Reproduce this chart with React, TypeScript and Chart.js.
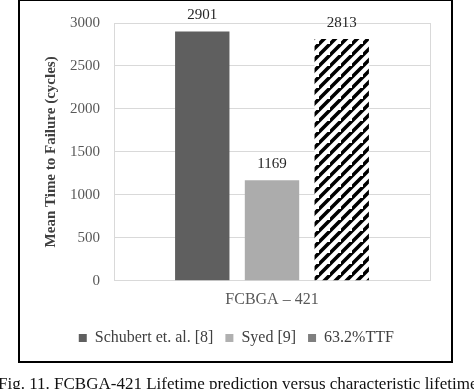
import React, { useEffect, useRef } from "react";
import { Chart, registerables } from "chart.js";

Chart.register(...registerables);

const categories = ["FCBGA – 421"];
const seriesNames = ["Schubert et. al. [8]", "Syed [9]", "63.2%TTF"];
const schubertValues = [2901];
const syedValues = [1169];
const ttfValues = [2813];
const yTicks = [0, 500, 1000, 1500, 2000, 2500, 3000];
const caption = "Fig. 11. FCBGA-421 Lifetime prediction versus characteristic lifetime";

const SERIF = "'Liberation Serif', 'Times New Roman', serif";

function makeHatch(): CanvasPattern | string {
  const c = document.createElement("canvas");
  const s = 11;
  c.width = s;
  c.height = s;
  const g = c.getContext("2d");
  if (!g) return "#000";
  g.fillStyle = "#fff";
  g.fillRect(0, 0, s, s);
  g.strokeStyle = "#000";
  g.lineWidth = 3.6;
  g.lineCap = "square";
  const lines = [
    [-1, s + 1, s + 1, -1],
    [-s - 1, s + 1, 1, -1],
    [s - 1, 2 * s + 1, 2 * s + 1, s - 1],
  ];
  for (const [x1, y1, x2, y2] of lines) {
    g.beginPath();
    g.moveTo(x1, y1);
    g.lineTo(x2, y2);
    g.stroke();
  }
  const p = g.createPattern(c, "repeat");
  return p || "#000";
}

const valueLabels = {
  id: "valueLabels",
  afterDatasetsDraw(chart: any) {
    const ctx = chart.ctx;
    ctx.save();
    ctx.font = `15px ${SERIF}`;
    ctx.fillStyle = "#262626";
    ctx.textAlign = "center";
    ctx.textBaseline = "middle";
    chart.data.datasets.forEach((ds: any, i: number) => {
      const meta = chart.getDatasetMeta(i);
      meta.data.forEach((bar: any, j: number) => {
        ctx.fillText(String(ds.data[j]), bar.x, bar.y - 16.5);
      });
    });
    ctx.restore();
  },
};

export default function App() {
  const ref = useRef<HTMLCanvasElement | null>(null);
  useEffect(() => {
    if (!ref.current) return;
    const hatch = makeHatch();
    const legendColors = ["#5f5f5f", "#b0b0b0", "#7f7f7f"];
    const chart = new Chart(ref.current, {
      type: "bar",
      data: {
        labels: categories,
        datasets: [
          { label: seriesNames[0], data: schubertValues, backgroundColor: "#5f5f5f" },
          { label: seriesNames[1], data: syedValues, backgroundColor: "#acacac" },
          { label: seriesNames[2], data: ttfValues, backgroundColor: hatch as any },
        ],
      },
      options: {
        animation: false,
        responsive: false,
        maintainAspectRatio: false,
        datasets: { bar: { categoryPercentage: 0.662, barPercentage: 0.78 } },
        layout: { padding: { left: 42.6, right: 44, top: 16, bottom: 33 } },
        plugins: {
          tooltip: { enabled: false },
          legend: {
            position: "bottom",
            labels: {
              boxWidth: 8,
              boxHeight: 8,
              padding: 12,
              color: "#404040",
              font: { family: SERIF, size: 16 },
              generateLabels: (ch: any) =>
                ch.data.datasets.map((ds: any, i: number) => ({
                  text: ds.label,
                  fillStyle: legendColors[i],
                  strokeStyle: legendColors[i],
                  lineWidth: 0,
                  hidden: false,
                  datasetIndex: i,
                  fontColor: "#404040",
                })),
            },
          },
        },
        scales: {
          x: {
            grid: { color: "#d9d9d9", drawTicks: false, offset: true },
            border: { color: "#d9d9d9" },
            ticks: { color: "#595959", font: { family: SERIF, size: 16 }, padding: 9 },
          },
          y: {
            min: 0,
            max: 3000,
            afterBuildTicks: (axis: any) => {
              axis.ticks = yTicks.map((v) => ({ value: v }));
            },
            afterFit: (axis: any) => {
              axis.width = 71.4;
            },
            grid: { color: "#d9d9d9", drawTicks: false },
            border: { display: false },
            ticks: {
              color: "#595959",
              font: { family: SERIF, size: 15 },
              padding: 14,
              callback: (v: any) => String(v),
            },
            title: {
              display: true,
              text: "Mean Time to Failure (cycles)",
              color: "#404040",
              font: { family: SERIF, size: 15, weight: "bold" },
              padding: { top: 0, bottom: 10.6 },
            },
          },
        },
      },
      plugins: [valueLabels],
    });
    return () => chart.destroy();
  }, []);

  return (
    <div style={{ position: "fixed", left: 0, top: 0, width: 474, height: 389, overflow: "hidden", background: "#fff" }}>
      <canvas ref={ref} width={474} height={389} style={{ position: "absolute", left: 0, top: 0, width: 474, height: 389 }} />
      <div
        style={{
          position: "absolute",
          left: 18,
          top: -1,
          width: 435,
          height: 364,
          border: "2px solid #000",
          boxSizing: "border-box",
          pointerEvents: "none",
        }}
      />
      <div
        style={{
          position: "absolute",
          left: -2,
          top: 375,
          whiteSpace: "nowrap",
          fontFamily: SERIF,
          fontSize: 17,
          lineHeight: "17px",
          color: "#111",
        }}
      >
        {caption}
      </div>
    </div>
  );
}
